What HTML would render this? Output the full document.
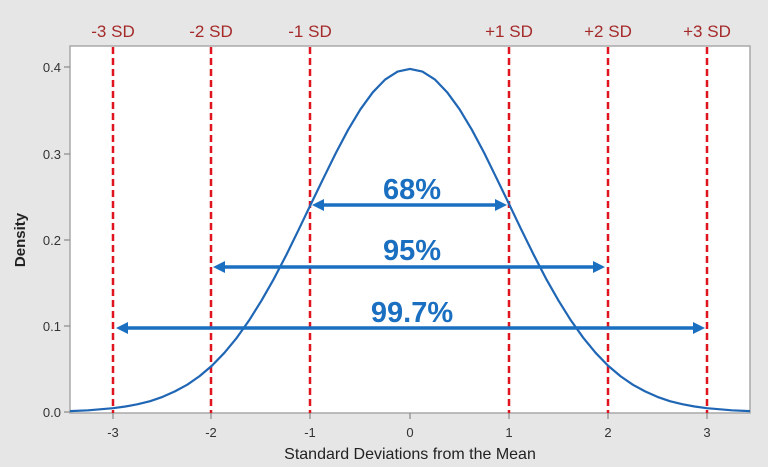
<!DOCTYPE html>
<html><head><meta charset="utf-8"><style>
body{margin:0;background:#e6e6e6;}
svg{display:block;font-family:"Liberation Sans",sans-serif;}
</style></head><body>
<svg width="768" height="467" viewBox="0 0 768 467">
<rect width="768" height="467" fill="#e6e6e6"/>
<rect x="70" y="46" width="680" height="367" fill="#fff" stroke="#a8a8a8" stroke-width="1.5"/>
<g stroke="#e0141e" stroke-width="2.5" stroke-dasharray="7,4">
<line x1="113" y1="47" x2="113" y2="413"/><line x1="211" y1="47" x2="211" y2="413"/>
<line x1="310" y1="47" x2="310" y2="413"/><line x1="509" y1="47" x2="509" y2="413"/>
<line x1="608" y1="47" x2="608" y2="413"/><line x1="707" y1="47" x2="707" y2="413"/>
</g>
<g fill="#a52a2a" font-size="17" text-anchor="middle">
<text x="113" y="37">-3 SD</text><text x="211" y="37">-2 SD</text><text x="310" y="37">-1 SD</text>
<text x="509" y="37">+1 SD</text><text x="608" y="37">+2 SD</text><text x="707" y="37">+3 SD</text>
</g>
<polyline fill="none" stroke="#1f66b5" stroke-width="2.2" stroke-linejoin="round" points="70,411.1 88.3,410.3 113,408.2 125.4,406.5 137.8,404.2 150.1,401.2 162.5,396.9 174.9,391.4 187.3,384.7 199.6,376.1 212,365.6 224.4,352.8 236.8,337.8 249.1,320.4 261.5,300.6 273.9,278.8 286.3,255 298.6,229.8 311,203.9 323.4,178.3 335.8,153.1 348.1,129.8 360.5,109.2 372.9,92.2 385.3,79.4 397.6,71.6 410,68.9 422.4,71.6 434.8,79.4 447.1,92.2 459.5,109.2 471.9,129.8 484.3,153.1 496.6,178.3 509,203.9 521.4,229.8 533.8,255 546.1,278.8 558.5,300.6 570.9,320.4 583.3,337.8 595.6,352.8 608,365.6 620.4,376.1 632.8,384.7 645.1,391.4 657.5,396.9 669.9,401.2 682.3,404.2 694.6,406.5 707,408.2 731.8,410.3 750,411.1"/>
<g stroke="#1a6fc0" stroke-width="3.5">
<line x1="322" y1="205" x2="497" y2="205"/><line x1="224" y1="267" x2="594" y2="267"/><line x1="127" y1="328" x2="694" y2="328"/>
</g>
<g fill="#1a6fc0">
<polygon points="312,205 324,199 324,211"/><polygon points="507,205 495,199 495,211"/>
<polygon points="213,267 225,261 225,273"/><polygon points="605,267 593,261 593,273"/>
<polygon points="116,328 128,322 128,334"/><polygon points="705,328 693,322 693,334"/>
</g>
<g fill="#1a6fc0" font-size="29" font-weight="bold" text-anchor="middle">
<text x="412" y="199">68%</text><text x="412" y="260">95%</text><text x="412" y="322">99.7%</text>
</g>
<g stroke="#888" stroke-width="1.2">
<line x1="64" y1="67" x2="70" y2="67"/><line x1="64" y1="154" x2="70" y2="154"/><line x1="64" y1="240" x2="70" y2="240"/><line x1="64" y1="326" x2="70" y2="326"/><line x1="64" y1="412" x2="70" y2="412"/>
<line x1="113" y1="413" x2="113" y2="419"/><line x1="211" y1="413" x2="211" y2="419"/><line x1="310" y1="413" x2="310" y2="419"/><line x1="410" y1="413" x2="410" y2="419"/><line x1="509" y1="413" x2="509" y2="419"/><line x1="608" y1="413" x2="608" y2="419"/><line x1="707" y1="413" x2="707" y2="419"/>
</g>
<g fill="#333" font-size="13" text-anchor="end">
<text x="61" y="72">0.4</text><text x="61" y="159">0.3</text><text x="61" y="245">0.2</text><text x="61" y="331">0.1</text><text x="61" y="417">0.0</text>
</g>
<g fill="#333" font-size="13" text-anchor="middle">
<text x="113" y="437">-3</text><text x="211" y="437">-2</text><text x="310" y="437">-1</text><text x="410" y="437">0</text><text x="509" y="437">1</text><text x="608" y="437">2</text><text x="707" y="437">3</text>
</g>
<text x="410" y="459" font-size="16" fill="#222" text-anchor="middle">Standard Deviations from the Mean</text>
<text transform="translate(25,240) rotate(-90)" font-size="15" font-weight="bold" fill="#222" text-anchor="middle">Density</text>
</svg>
</body></html>
